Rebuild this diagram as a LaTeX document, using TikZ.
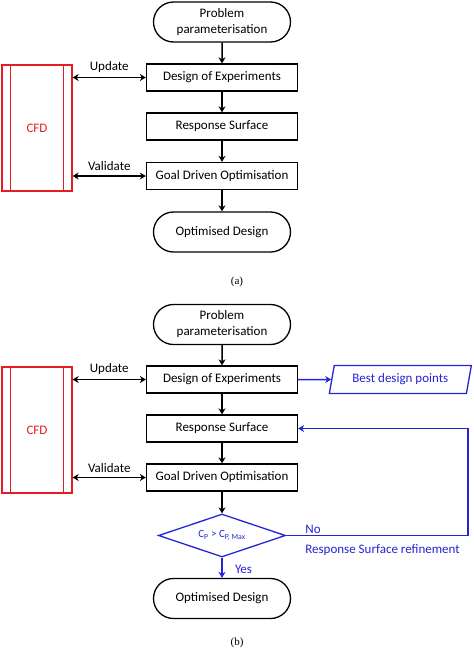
\documentclass[tikz,border=0pt]{standalone}
\usepackage{fontspec}
\setmainfont{Carlito}
\newfontfamily\capfont{Liberation Serif}
\usetikzlibrary{arrows.meta}
\usetikzlibrary{positioning}
\usetikzlibrary{shapes.geometric}
\usetikzlibrary{shapes.misc}
\definecolor{cfdred}  {RGB}{226,30,36}
\definecolor{loopblue}{RGB}{36,36,212}

\begin{document}
\begin{tikzpicture}[x=1pt, y=-1pt,
    font=\fontsize{13}{16}\selectfont,
    terminal/.style={rounded rectangle, draw=black, line width=1.3pt,
      minimum width=137pt, minimum height=40pt, inner sep=0pt, align=center},
    stepbox/.style={rectangle, draw=black, line width=1.3pt,
      minimum width=151pt, minimum height=27pt, inner sep=0pt},
    solverbox/.style={rectangle, draw=cfdred, line width=1.3pt, text=cfdred,
      minimum width=70pt, minimum height=126pt},
    decision/.style={diamond, aspect=3, draw=loopblue, line width=1.3pt, text=loopblue,
      minimum width=127pt, minimum height=43pt, inner sep=0pt,
      font=\fontsize{11}{13}\selectfont},
    output/.style={trapezium, trapezium left angle=78, trapezium right angle=102,
      trapezium stretches=true, draw=loopblue, line width=1.3pt, text=loopblue,
      minimum width=142pt, minimum height=28pt},
    flow/.style={-{Stealth[length=6pt, width=7pt]}, line width=1.5pt},
    link/.style={{Stealth[length=6pt, width=7pt]}-{Stealth[length=6pt, width=7pt]},
      line width=1.5pt},
    caption/.style={font=\capfont\fontsize{11}{13}\selectfont}]

  \useasboundingbox (0,0) rectangle (474,651);

  % ---- (a) ----
  \node (pa) [terminal] at (222,22) {Problem\\parameterisation};
  \node (doea) [stepbox] at (222,77.5) {Design of Experiments};
  \node (rsa) [stepbox] at (222,126.5) {Response Surface};
  \node (gdoa) [stepbox] at (222,176) {Goal Driven Optimisation};
  \node (oda) [terminal] at (222,232) {Optimised Design};

  % solver
  \node (cfda) [solverbox] at (37,128) {CFD};
  \draw [cfdred, line width=1.3pt]
    ([xshift=9pt]cfda.north west) -- ([xshift=9pt]cfda.south west)
    ([xshift=-9pt]cfda.north east) -- ([xshift=-9pt]cfda.south east);

  % edges
  \path [flow]
    (pa) edge (doea)
    (doea) edge (rsa)
    (rsa) edge (gdoa)
    (gdoa) edge (oda);
  \draw [link] (doea.west -| cfda.east) -- node [above, yshift=1pt] {Update} (doea.west);
  \draw [link] (gdoa.west -| cfda.east) -- node [above, yshift=1pt] {Validate} (gdoa.west);

  \node (capa) [caption] at (237,282) {(a)};

  % ---- (b) ----
  \node (pb) [terminal] at (222,324.5) {Problem\\parameterisation};
  \node (doeb) [stepbox] at (222,379.5) {Design of Experiments};
  \node (rsb) [stepbox] at (222,428.5) {Response Surface};
  \node (gdob) [stepbox] at (222,477.5) {Goal Driven Optimisation};
  \node (cpb) [decision] at (222,535.5)
    {C\textsubscript{P} > C\textsubscript{P, Max}};
  \node (odb) [terminal] at (222,598.5) {Optimised Design};

  % best points
  \node (bdpb) [output, right=33pt of doeb] {Best design points};

  % solver
  \node (cfdb) [solverbox] at (37,430) {CFD};
  \draw [cfdred, line width=1.3pt]
    ([xshift=9pt]cfdb.north west) -- ([xshift=9pt]cfdb.south west)
    ([xshift=-9pt]cfdb.north east) -- ([xshift=-9pt]cfdb.south east);

  % refinement loop
  \coordinate (loopc) at (468,428.5);

  % edges
  \path [flow]
    (pb) edge (doeb)
    (doeb) edge (rsb)
    (rsb) edge (gdob)
    (gdob) edge (cpb);
  \draw [flow, loopblue] (doeb) -- (bdpb);
  \draw [flow, loopblue] (cpb) -- node [right, xshift=9pt, yshift=-2pt] {Yes} (odb);
  \draw [flow, loopblue] (cpb.east) -| (loopc) -- (rsb.east);
  \draw [link] (doeb.west -| cfdb.east) -- node [above, yshift=1pt] {Update} (doeb.west);
  \draw [link] (gdob.west -| cfdb.east) -- node [above, yshift=1pt] {Validate} (gdob.west);

  % loop labels
  \node (nolbl) [anchor=south west, text=loopblue, inner sep=1pt]
    at ([xshift=18pt, yshift=1pt]cpb.east) {No};
  \node (reflbl) [anchor=north west, text=loopblue, inner sep=1pt]
    at ([xshift=18pt, yshift=-8pt]cpb.east) {Response Surface refinement};

  \node (capb) [caption] at (237,643) {(b)};
\end{tikzpicture}
\end{document}
